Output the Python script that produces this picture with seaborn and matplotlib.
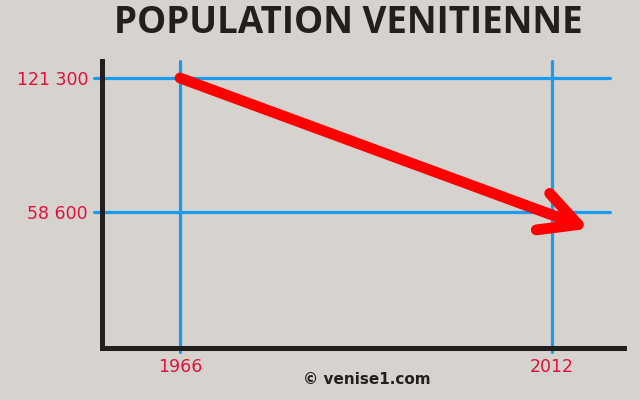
import matplotlib
matplotlib.use("Agg")
import matplotlib.pyplot as plt
import seaborn as sns

# data
years = [1966, 2012]
population = [121300, 58600]
tick_labels_y = ["121 300", "58 600"]
tick_labels_x = ["1966", "2012"]
# arrow overshoots the last point a little, as in the original drawing
arrow_start = (1966, 121300)
arrow_end = (2016.6, 50800)

BG = "#d6d3ce"
DARK = "#231f1c"
BLUE = "#1a9bf0"
RED = "#ff0000"
LABEL_RED = "#e0103a"

sns.set_theme(style="white", rc={
    "figure.facecolor": BG,
    "axes.facecolor": BG,
    "savefig.facecolor": BG,
})
plt.rcParams["font.family"] = ["DejaVu Sans"]

fig = plt.figure(figsize=(6.4, 4.0), dpi=100)
ax = fig.add_axes([102 / 640, 52 / 400, 522 / 640, 287 / 400])
ax.set_facecolor(BG)

ax.set_xlim(1956.35, 2020.9)
ax.set_ylim(-5040, 129255)

# blue guide lines
for yr in years:
    ax.axvline(yr, ymin=-0.015, ymax=1.0, color=BLUE, lw=2.3, clip_on=False, zorder=2)
for p in population:
    ax.axhline(p, xmin=-0.015, xmax=0.973, color=BLUE, lw=2.3, clip_on=False, zorder=2)

# red trend arrow
ax.annotate("", xy=arrow_end, xytext=arrow_start,
            arrowprops=dict(arrowstyle="->,head_length=1.35,head_width=0.7",
                            color=RED, lw=7.8, capstyle="round",
                            joinstyle="round", mutation_scale=20,
                            shrinkA=0, shrinkB=0),
            zorder=4)

sns.despine(ax=ax, top=True, right=True)
for side in ["left", "bottom"]:
    ax.spines[side].set_color(DARK)
    ax.spines[side].set_linewidth(3.6)
    ax.spines[side].set_zorder(3)

ax.set_xticks(years)
ax.set_xticklabels(tick_labels_x)
ax.set_yticks(population)
ax.set_yticklabels(tick_labels_y)
ax.tick_params(axis="both", length=0, labelcolor=LABEL_RED, labelsize=12.5)
ax.tick_params(axis="y", pad=10)
ax.tick_params(axis="x", pad=7)
ax.grid(False)

fig.text(0.545, 0.943, "POPULATION VENITIENNE", ha="center", va="center",
         fontsize=26.5, fontweight="bold", color=DARK, family=["Open Sans", "DejaVu Sans"])
fig.text(0.573, 0.05, "© venise1.com", ha="center", va="center",
         fontsize=11, fontweight="bold", color=DARK)

fig.savefig("out.png", dpi=100)
